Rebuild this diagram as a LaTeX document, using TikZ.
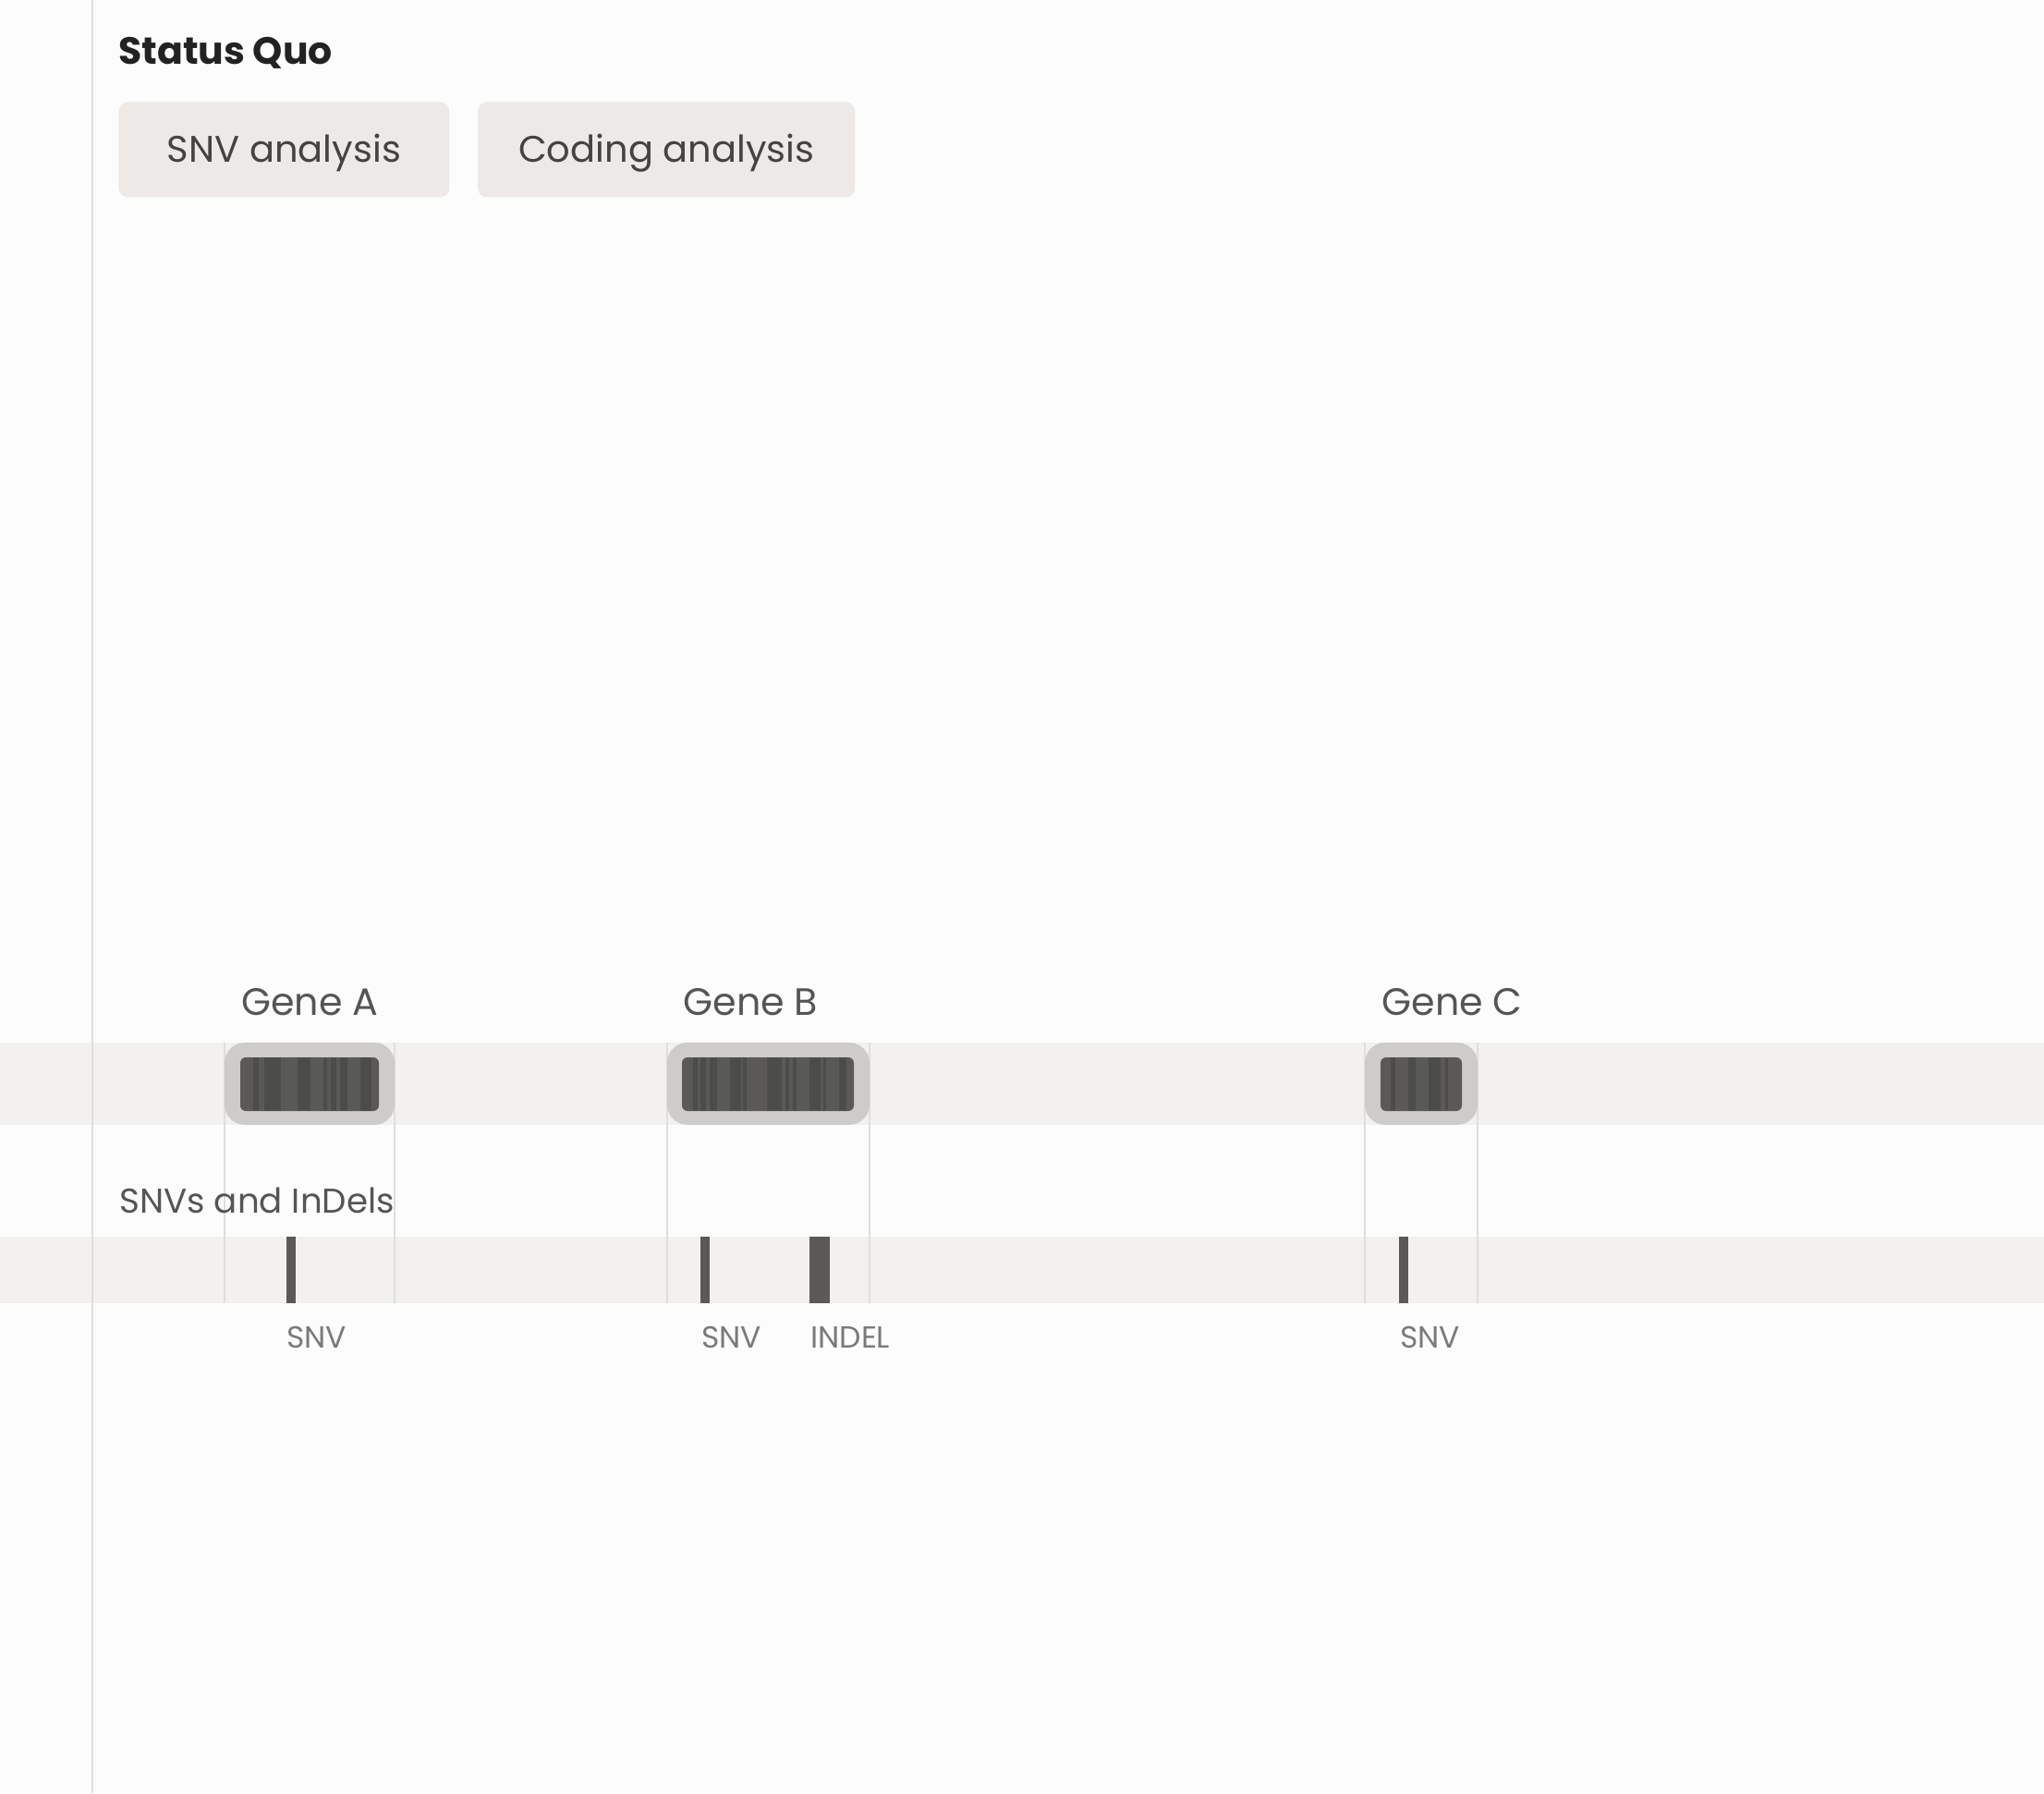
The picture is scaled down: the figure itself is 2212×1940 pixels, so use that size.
\documentclass[tikz,border=0pt]{standalone}
\usepackage{fontspec}
\setmainfont{Poppins}
\usetikzlibrary{positioning}
\definecolor{paper}{HTML}{FCFCFC}
\definecolor{trackcol}{HTML}{F2F1EF}
\definecolor{pillcol}{HTML}{ECE9E7}
\definecolor{rulecol}{HTML}{DEDEDD}
\definecolor{haloCol}{HTML}{CDCCCA}
\definecolor{coreCol}{HTML}{5A5957}
\definecolor{stripeCol}{HTML}{4C4C4B}
\definecolor{inkDark}{HTML}{222222}
\definecolor{inkMid}{HTML}{555555}
\definecolor{inkLight}{HTML}{7A7A7A}
\tikzset{
  pill/.style={
    rectangle,
    rounded corners=5pt,
    fill=pillcol,
    text=inkDark!85,
    minimum height=51.5pt,
    text height=14pt,
    text depth=0pt,
    inner sep=0pt,
    font=\fontsize{20}{24}\selectfont},
  track/.style={fill=trackcol},
  guide/.style={draw=rulecol, line width=0.9pt},
  halo/.style={fill=haloCol, rounded corners=11pt},
  core/.style={fill=coreCol, rounded corners=3pt},
  stripe/.style={fill=stripeCol},
  variant/.style={fill=coreCol},
  genename/.style={anchor=base west, inner sep=0pt, text=inkMid,
    font=\fontsize{20.6}{24}\selectfont},
  tracktitle/.style={anchor=base west, inner sep=0pt, text=inkMid,
    font=\fontsize{18.6}{22}\selectfont},
  kind/.style={anchor=base west, inner sep=0pt, text=inkLight,
    font=\fontsize{16.5}{19}\selectfont},
}

\begin{document}
\begin{tikzpicture}[x=0.5pt, y=-0.5pt]
    \fill[paper] (0,0) rectangle (2212,1940);
    \useasboundingbox (0,0) rectangle (2212,1940);

    % tracks
    \fill[track] (0,1128) rectangle (2212,1217);
    \fill[track] (0,1338) rectangle (2212,1410);

    % rules
    \draw[guide] (100,0) -- (100,1940);
    \foreach \x in {243, 427, 722, 941, 1477, 1599}
        \draw[guide] (\x,1128) -- (\x,1410);

    % header
    \node[anchor=base west, inner sep=0pt, text=inkDark,
        font=\fontsize{20.5}{24}\selectfont\bfseries] (title) at (128,69.5) {Status Quo};
    \node[pill, minimum width=179pt, anchor=north west] (snvpill) at (128,110) {SNV analysis};
    \node[pill, minimum width=204pt, right=15pt of snvpill] (codingpill) {Coding analysis};

    % genes
    \fill[halo] (243,1128) rectangle (427,1217);
    \fill[core] (260,1144) rectangle (410,1202);
    \foreach \a/\b in {274/280, 286/304, 322/336, 350/354, 358/364, 368/376, 390/402}
        \fill[stripe] (\a,1144) rectangle (\b,1202);

    \fill[halo] (722,1128) rectangle (941,1217);
    \fill[core] (738,1144) rectangle (924,1202);
    \foreach \a/\b in {750/755, 758/764, 768/776, 790/802, 804/808, 830/846,
        850/854, 858/862, 876/888, 891/894, 908/916}
        \fill[stripe] (\a,1144) rectangle (\b,1202);

    \fill[halo] (1477,1128) rectangle (1599,1217);
    \fill[core] (1494,1144) rectangle (1582,1202);
    \foreach \a/\b in {1505/1510, 1524/1532, 1546/1559, 1564/1567}
        \fill[stripe] (\a,1144) rectangle (\b,1202);

    \node[genename] (geneA) at (261,1098) {Gene A};
    \node[genename] (geneB) at (739,1098) {Gene B};
    \node[genename] (geneC) at (1495,1098) {Gene C};

    % variants
    \node[tracktitle] (vartitle) at (129,1312) {SNVs and InDels};
    \fill[variant] (310,1338) rectangle (320,1410);
    \fill[variant] (758,1338) rectangle (768,1410);
    \fill[variant] (876,1338) rectangle (898,1410);
    \fill[variant] (1514,1338) rectangle (1524,1410);
    \node[kind] (snvA) at (310,1458) {SNV};
    \node[kind] (snvB) at (759,1458) {SNV};
    \node[kind] (indelB) at (877,1458) {INDEL};
    \node[kind] (snvC) at (1515,1458) {SNV};
\end{tikzpicture}
\end{document}
